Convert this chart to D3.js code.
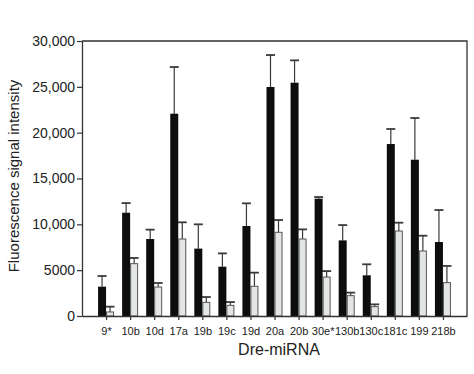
<!DOCTYPE html>
<html>
<head>
<meta charset="utf-8">
<script src="https://cdn.jsdelivr.net/npm/d3@7/dist/d3.min.js"></script>
<style>
  body { margin: 0; background: #fff; }
  svg { font-family: "Liberation Sans", Arial, sans-serif; }
</style>
</head>
<body>
<div class="svg-container"></div>
<script>
var categories = ['9*', '10b', '10d', '17a', '19b', '19c', '19d', '20a', '20b', '30e*', '130b', '130c', '181c', '199', '218b'];
var blackValues = [3200, 11270, 8400, 22070, 7350, 5380, 9820, 24980, 25450, 12800, 8250, 4440, 18760, 17050, 8070];
var blackErrors = [1160, 1050, 1020, 5090, 2650, 1450, 2470, 3490, 2440, 180, 1670, 1200, 1640, 4550, 3490];
var greyValues = [440, 5710, 3160, 8400, 1490, 1160, 3240, 9130, 8400, 4250, 2220, 1020, 9270, 7090, 3640];
var greyErrors = [580, 620, 440, 1820, 580, 360, 1490, 1340, 1050, 650, 330, 250, 910, 1670, 1820];
var yTicks = [0, 5000, 10000, 15000, 20000, 25000, 30000];
var yTickLabels = ['0', '5000', '10,000', '15,000', '20,000', '25,000', '30,000'];

var width = 474;
var height = 374;
var margin = { left: 82, right: 7, top: 41, bottom: 58 };
var innerW = width - margin.left - margin.right;
var innerH = height - margin.top - margin.bottom;
var axisColour = '#333';

// Create SVG element
var svg = d3.select('.svg-container')
  .append('svg')
  .attr('width', width)
  .attr('height', height);

var g = svg.append('g')
  .attr('transform', 'translate(' + margin.left + ',' + margin.top + ')');

// Set up scales
var xScale = d3.scalePoint()
  .domain(categories)
  .range([0, innerW])
  .padding(1);

var yScale = d3.scaleLinear()
  .domain([0, 30000])
  .range([innerH, 0]);

var barW = 8;

// Frame (top and right)
g.append('path')
  .attr('d', 'M0,0H' + innerW + 'V' + innerH)
  .attr('fill', 'none')
  .attr('stroke', axisColour)
  .attr('stroke-width', 1.3);

// Error bars (upper half only)
function drawErrors(values, errors, offset, cls) {
  var eg = g.selectAll('g.' + cls)
    .data(categories)
    .enter()
    .append('g')
    .attr('class', cls)
    .attr('stroke', '#3a3a3a')
    .attr('stroke-width', 1.2);

  eg.append('line')
    .attr('x1', function(d) { return xScale(d) + offset; })
    .attr('x2', function(d) { return xScale(d) + offset; })
    .attr('y1', function(d, i) { return yScale(values[i]); })
    .attr('y2', function(d, i) { return yScale(values[i] + errors[i]); });

  eg.append('line')
    .attr('x1', function(d) { return xScale(d) + offset - 4.5; })
    .attr('x2', function(d) { return xScale(d) + offset + 4.5; })
    .attr('y1', function(d, i) { return yScale(values[i] + errors[i]); })
    .attr('y2', function(d, i) { return yScale(values[i] + errors[i]); })
    .attr('stroke-width', 1.8);
}

drawErrors(blackValues, blackErrors, -barW / 2, 'err-black');
drawErrors(greyValues, greyErrors, barW / 2, 'err-grey');

// Black bars
g.selectAll('rect.black')
  .data(categories)
  .enter()
  .append('rect')
  .attr('class', 'black')
  .attr('x', function(d) { return xScale(d) - barW; })
  .attr('y', function(d, i) { return yScale(blackValues[i]); })
  .attr('width', barW)
  .attr('height', function(d, i) { return innerH - yScale(blackValues[i]); })
  .attr('fill', '#0c0d0d');

// Grey bars
g.selectAll('rect.grey')
  .data(categories)
  .enter()
  .append('rect')
  .attr('class', 'grey')
  .attr('x', function(d) { return xScale(d) + 0.5; })
  .attr('y', function(d, i) { return yScale(greyValues[i]); })
  .attr('width', barW - 1)
  .attr('height', function(d, i) { return innerH - yScale(greyValues[i]); })
  .attr('fill', '#e4e6e4')
  .attr('stroke', '#555')
  .attr('stroke-width', 1);

// Axes
var yAxis = d3.axisLeft(yScale)
  .tickValues(yTicks)
  .tickFormat(function(d, i) { return yTickLabels[i]; })
  .tickSize(5)
  .tickPadding(2)
  .tickSizeOuter(0);

var yG = g.append('g').call(yAxis);
yG.selectAll('text')
  .attr('font-size', '14px')
  .attr('fill', '#222');

var xAxis = d3.axisBottom(xScale)
  .tickSize(4)
  .tickPadding(7)
  .tickSizeOuter(0);

var xG = g.append('g')
  .attr('transform', 'translate(0,' + innerH + ')')
  .call(xAxis);
xG.selectAll('text')
  .attr('font-size', '11px')
  .attr('fill', '#222');

[yG, xG].forEach(function(ax) {
  ax.attr('font-family', null);
  ax.select('.domain').attr('stroke', axisColour).attr('stroke-width', 1.3);
  ax.selectAll('.tick line').attr('stroke', axisColour).attr('stroke-width', 1.2);
});

// Axis titles
svg.append('text')
  .attr('transform', 'translate(19,176) rotate(-90)')
  .attr('text-anchor', 'middle')
  .attr('font-size', '15px')
  .attr('fill', '#222')
  .text('Fluorescence signal intensity');

svg.append('text')
  .attr('x', 279)
  .attr('y', 355)
  .attr('text-anchor', 'middle')
  .attr('font-size', '16px')
  .attr('fill', '#222')
  .text('Dre-miRNA');
</script>
</body>
</html>
